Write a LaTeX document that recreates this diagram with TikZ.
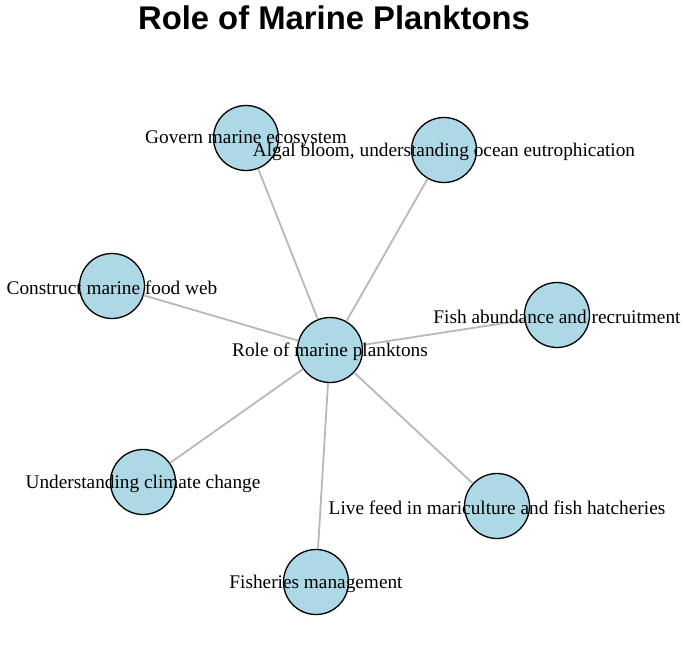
\documentclass[tikz,border=0pt]{standalone}
\usepackage{fontspec}
\setmainfont{Liberation Serif}
\newfontfamily\titlefont{Liberation Sans}
\definecolor{nodefill}{HTML}{ADD8E6}
\definecolor{edgegray}{HTML}{B8B8B8}
\begin{document}
\begin{tikzpicture}[x=1pt,y=-1pt,
  vert/.style={circle,draw=black,line width=1.3pt,fill=nodefill,minimum size=65pt,inner sep=0pt},
  lab/.style={font=\fontsize{19.3}{22}\selectfont,inner sep=0pt,yshift=-1.5pt},
  edge/.style={draw=edgegray,line width=1.8pt}]
\useasboundingbox (0,0) rectangle (685,645);
\node[font=\titlefont\bfseries\fontsize{32.8}{38}\selectfont] (title) at (334,18) {Role of Marine Planktons};
% vertex positions
\coordinate (c0) at (330,350);
\coordinate (c1) at (246,138);
\coordinate (c2) at (444,150);
\coordinate (c3) at (112,286);
\coordinate (c4) at (557,315);
\coordinate (c5) at (143,482);
\coordinate (c6) at (497,506);
\coordinate (c7) at (316,582);
% vertices
\foreach \k in {0,...,7} {\node[vert] (n\k) at (c\k) {};}
% edges
\foreach \k in {1,...,7} {\draw[edge] (n0) -- (n\k);}
% labels
\node[lab] (l0) at (c0) {Role of marine planktons};
\node[lab] (l1) at (c1) {Govern marine ecosystem};
\node[lab] (l2) at (c2) {Algal bloom, understanding ocean eutrophication};
\node[lab] (l3) at (c3) {Construct marine food web};
\node[lab] (l4) at (c4) {Fish abundance and recruitment};
\node[lab] (l5) at (c5) {Understanding climate change};
\node[lab] (l6) at (c6) {Live feed in mariculture and fish hatcheries};
\node[lab] (l7) at (c7) {Fisheries management};
\end{tikzpicture}
\end{document}
